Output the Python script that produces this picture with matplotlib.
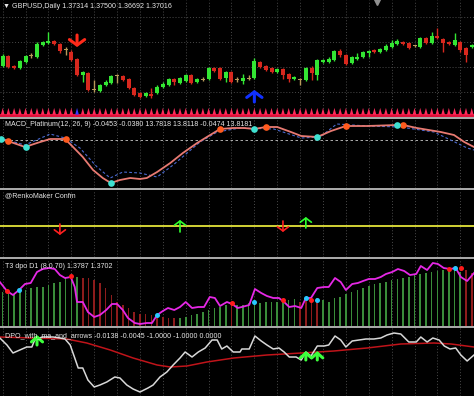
import numpy as np
import matplotlib
matplotlib.use("Agg")
import matplotlib.pyplot as plt
from matplotlib.transforms import blended_transform_factory

W, H = 474, 396
FONT = ["Liberation Sans", "DejaVu Sans"]

# ---- price panel: GBPUSD daily candles --------------------------------------
opens = [1.3650, 1.3700, 1.3650, 1.3640, 1.3670, 1.3700, 1.3695, 1.3755, 1.3765, 1.3775,
         1.3760, 1.3730, 1.3720, 1.3685, 1.3605, 1.3615, 1.3532, 1.3525, 1.3555, 1.3565,
         1.3600, 1.3600, 1.3585, 1.3540, 1.3515, 1.3500, 1.3512, 1.3515, 1.3545, 1.3555,
         1.3585, 1.3565, 1.3575, 1.3605, 1.3570, 1.3580, 1.3585, 1.3640, 1.3640, 1.3590,
         1.3620, 1.3580, 1.3575, 1.3585, 1.3590, 1.3670, 1.3650, 1.3640, 1.3620, 1.3635,
         1.3610, 1.3585, 1.3585, 1.3580, 1.3640, 1.3605, 1.3670, 1.3670, 1.3680, 1.3725,
         1.3705, 1.3665, 1.3685, 1.3695, 1.3715, 1.3730, 1.3720, 1.3730, 1.3745, 1.3760,
         1.3770, 1.3765, 1.3750, 1.3745, 1.3790, 1.3765, 1.3800, 1.3785, 1.3770, 1.3755,
         1.3770, 1.3740, 1.3745]
highs = [1.3710, 1.3705, 1.3655, 1.3680, 1.3705, 1.3715, 1.3770, 1.3775, 1.3820, 1.3780,
         1.3765, 1.3745, 1.3730, 1.3690, 1.3625, 1.3620, 1.3580, 1.3560, 1.3580, 1.3605,
         1.3610, 1.3605, 1.3590, 1.3545, 1.3520, 1.3520, 1.3540, 1.3555, 1.3570, 1.3590,
         1.3590, 1.3595, 1.3610, 1.3610, 1.3590, 1.3595, 1.3645, 1.3645, 1.3645, 1.3625,
         1.3625, 1.3595, 1.3610, 1.3605, 1.3690, 1.3675, 1.3655, 1.3645, 1.3640, 1.3640,
         1.3615, 1.3600, 1.3590, 1.3645, 1.3650, 1.3685, 1.3685, 1.3695, 1.3730, 1.3735,
         1.3710, 1.3700, 1.3715, 1.3725, 1.3730, 1.3735, 1.3740, 1.3760, 1.3780, 1.3785,
         1.3775, 1.3770, 1.3755, 1.3795, 1.3795, 1.3820, 1.3840, 1.3790, 1.3775, 1.3815,
         1.3775, 1.3745, 1.3760]
lows = [1.3645, 1.3640, 1.3635, 1.3635, 1.3665, 1.3690, 1.3690, 1.3750, 1.3760, 1.3755,
        1.3715, 1.3705, 1.3675, 1.3600, 1.3570, 1.3525, 1.3520, 1.3520, 1.3550, 1.3560,
        1.3565, 1.3575, 1.3535, 1.3500, 1.3490, 1.3495, 1.3490, 1.3510, 1.3540, 1.3550,
        1.3555, 1.3560, 1.3570, 1.3560, 1.3565, 1.3575, 1.3580, 1.3620, 1.3580, 1.3570,
        1.3565, 1.3570, 1.3560, 1.3580, 1.3585, 1.3640, 1.3625, 1.3615, 1.3615, 1.3585,
        1.3570, 1.3580, 1.3555, 1.3575, 1.3580, 1.3580, 1.3665, 1.3665, 1.3675, 1.3695,
        1.3655, 1.3660, 1.3680, 1.3690, 1.3695, 1.3715, 1.3715, 1.3725, 1.3740, 1.3755,
        1.3755, 1.3735, 1.3745, 1.3740, 1.3760, 1.3760, 1.3785, 1.3720, 1.3755, 1.3750,
        1.3720, 1.3670, 1.3740]
closes = [1.3700, 1.3645, 1.3640, 1.3675, 1.3700, 1.3702, 1.3760, 1.3770, 1.3775, 1.3760,
          1.3725, 1.3728, 1.3680, 1.3605, 1.3620, 1.3530, 1.3530, 1.3555, 1.3570, 1.3600,
          1.3605, 1.3580, 1.3540, 1.3505, 1.3495, 1.3515, 1.3502, 1.3545, 1.3560, 1.3585,
          1.3570, 1.3590, 1.3605, 1.3565, 1.3585, 1.3585, 1.3640, 1.3625, 1.3585, 1.3620,
          1.3570, 1.3582, 1.3590, 1.3590, 1.3675, 1.3645, 1.3630, 1.3620, 1.3635, 1.3605,
          1.3585, 1.3595, 1.3580, 1.3640, 1.3615, 1.3680, 1.3680, 1.3685, 1.3725, 1.3705,
          1.3660, 1.3695, 1.3695, 1.3720, 1.3725, 1.3720, 1.3735, 1.3750, 1.3765, 1.3775,
          1.3760, 1.3740, 1.3748, 1.3790, 1.3765, 1.3800, 1.3790, 1.3765, 1.3760, 1.3780,
          1.3730, 1.3705, 1.3755]
price_grid = [1.3895, 1.3770, 1.3645, 1.3520]
sell_arrow_bar, buy_arrow_bar = 13, 44
zigzag_blue_bars = [13]

# ---- MACD_Platinum ----------------------------------------------------------
macd_x = [-0.5, 0.9, 3.9, 6.0, 8.3, 10.9, 12.3, 14.0, 15.8, 17.5, 18.9, 20.5, 22.3, 24.0,
          25.2, 27.0, 29.3, 31.5, 34.0, 35.7, 38.0, 40.3, 42.2, 44.0, 46.0, 48.0, 50.4,
          52.2, 55.0, 57.4, 60.0, 63.7, 69.0, 70.0, 72.4, 76.6, 78.9, 80.7, 82.4]
macd_main = [0.001, -0.001, -0.007, -0.003, 0.001, 0.001, -0.007, -0.017, -0.030, -0.038,
             -0.043, -0.040, -0.038, -0.039, -0.038, -0.032, -0.023, -0.013, -0.003, 0.003,
             0.011, 0.012, 0.012, 0.011, 0.013, 0.013, 0.008, 0.004, 0.003, 0.009, 0.014,
             0.014, 0.015, 0.015, 0.012, 0.008, 0.005, -0.002, -0.007]
signal_x = [-0.5, 3.9, 8.3, 10.9, 13.5, 16.5, 18.8, 21.0, 24.0, 27.0, 29.8, 34.5, 37.5,
            41.5, 47.4, 52.2, 55.5, 58.4, 63.7, 69.5, 75.4, 81.2, 82.4]
macd_signal = [0.002, -0.005, 0.006, 0.002, -0.008, -0.027, -0.038, -0.032, -0.033, -0.037,
               -0.025, -0.002, 0.008, 0.012, 0.011, 0.002, 0.003, 0.016, 0.014, 0.013,
               0.008, -0.008, -0.010]
macd_up_x = [1, 11, 38, 46, 60, 70]
macd_up_y = [-0.001, 0.001, 0.011, 0.013, 0.014, 0.015]
macd_dn_x = [-0.3, 4, 19, 44, 55, 69]
macd_dn_y = [0.001, -0.007, -0.043, 0.011, 0.003, 0.015]

# ---- RenkoMaker Confm ---------------------------------------------------------
renko_bars = [10, 31, 49, 53]
renko_dirs = [-1, 1, -1, 1]
renko_tail = [0.2, -0.6, 0.5, -0.2]
renko_tip = [-0.9, 0.6, -0.6, 0.9]

# ---- T3 dpo D1 ------------------------------------------------------------------
t3_hist = [34, 34, 32, 36, 36, 38, 39, 39, 41, 43, 44, 48, 49, 49, 48, 48, 46, 43, 38, 31,
           24, 21, 18, 14, 12, 12, 11, 9, 9, 8, 8, 8, 9, 11, 12, 14, 16, 18, 19, 21,
           21, 21, 21, 23, 24, 23, 24, 24, 24, 26, 26, 27, 24, 28, 28, 28, 26, 24, 28, 29,
           32, 34, 36, 38, 40, 42, 43, 44, 46, 47, 48, 49, 51, 52, 53, 54, 55, 56, 56, 57,
           54, 56, 53]
t3_red_bars = list(range(14, 31)) + [40, 52, 53, 54, 55, 81, 82]
t3_x = [-0.5, 0.75, 1.8, 2.85, 3.9, 4.9, 6.0, 7.0, 8.1, 9.1, 10.0, 10.9, 11.9, 12.6, 13.0,
        14.0, 14.9, 16.0, 17.0, 18.1, 19.1, 20.0, 21.0, 21.9, 23.1, 24.0, 25.2, 26.1, 27.0,
        28.0, 28.9, 30.0, 31.0, 32.0, 33.1, 34.2, 35.2, 36.2, 37.1, 38.0, 39.2, 40.1, 41.1,
        41.8, 43.1, 44.1, 45.2, 46.2, 47.3, 48.3, 49.2, 50.1, 51.1, 52.2, 53.0, 53.9, 55.0,
        56.2, 57.0, 58.1, 59.1, 60.0, 61.1, 62.1, 63.0, 64.0, 65.1, 66.1, 67.0, 68.1, 69.1,
        70.2, 71.2, 72.3, 73.1, 74.2, 75.2, 76.1, 77.1, 78.2, 79.2, 80.1, 81.2, 82.4]
t3_line = [44, 35, 31, 36, 42, 43, 54, 57, 58, 57, 51, 48, 49, 39, 24, 24, 14, 9, 11, 16,
           22, 22, 16, 8, 3, 2, 3, 3, 11, 15, 18, 16, 19, 24, 18, 19, 19, 29, 28, 20,
           24, 22, 18, 19, 21, 37, 33, 30, 28, 28, 24, 19, 20, 18, 28, 28, 38, 39, 39, 48,
           44, 36, 42, 43, 45, 47, 47, 49, 52, 54, 57, 55, 51, 52, 60, 56, 63, 62, 58, 57,
           58, 49, 45, 53]
t3_red_dot_x = [0.75, 11.9, 40.1, 49.0, 53.9, 78.0, 80.1]
t3_red_dot_y = [35, 50, 23, 26, 26, 57, 58]
t3_blue_dot_x = [2.85, 27.0, 44.0, 53.0, 55.0, 79.0]
t3_blue_dot_y = [36, 11, 24, 28, 26, 58]

# ---- DPO_with_ma_and_arrows --------------------------------------------------------
dpo_x = [-0.5, 0.75, 1.8, 3.0, 4.2, 5.1, 5.6, 6.9, 8.8, 10.0, 10.9, 11.8, 12.6, 13.2, 14.0,
         14.9, 16.0, 17.0, 18.2, 19.6, 20.5, 21.7, 22.8, 24.0, 25.4, 26.3, 27.5, 28.7, 29.8,
         31.0, 31.9, 33.1, 34.2, 35.4, 36.6, 37.5, 38.3, 39.2, 40.3, 41.5, 41.8, 43.1, 44.1,
         45.2, 46.2, 47.3, 48.3, 49.2, 50.1, 51.3, 52.2, 53.0, 53.9, 55.0, 56.2, 57.0, 58.1,
         59.1, 60.0, 61.1, 62.3, 63.5, 64.9, 66.1, 67.2, 68.4, 69.6, 71.0, 72.3, 73.1, 74.2,
         75.2, 76.3, 77.2, 78.2, 79.2, 80.1, 81.2, 82.4]
dpo_line = [0.022, 0.015, 0.007, 0.010, 0.013, 0.013, 0.020, 0.023, 0.023, 0.022, 0.021,
            0.015, 0.002, -0.008, -0.008, -0.020, -0.027, -0.025, -0.022, -0.017, -0.018,
            -0.025, -0.029, -0.032, -0.028, -0.025, -0.017, -0.012, -0.005, 0.002, 0.008,
            0.003, 0.008, 0.012, 0.020, 0.020, 0.011, 0.014, 0.008, 0.008, 0.011, 0.011,
            0.024, 0.019, 0.015, 0.011, 0.012, 0.008, 0.003, 0.003, 0.000, 0.008, 0.004,
            0.014, 0.014, 0.015, 0.024, 0.020, 0.013, 0.019, 0.020, 0.021, 0.021, 0.022,
            0.025, 0.027, 0.026, 0.018, 0.018, 0.023, 0.018, 0.022, 0.020, 0.014, 0.011,
            0.012, 0.005, -0.001, 0.005]
dpo_ma_x = [-0.5, 5.3, 11.2, 14.7, 18.8, 22.8, 27.0, 29.3, 32.2, 35.7, 40.4, 46.2, 52.2,
            57.9, 63.7, 69.6, 75.4, 78.4, 82.4]
dpo_ma = [0.023, 0.022, 0.021, 0.017, 0.010, 0.002, -0.005, -0.007, -0.006, -0.002, 0.002,
          0.005, 0.007, 0.009, 0.012, 0.016, 0.017, 0.016, 0.013]
dpo_arrow_bars = [6, 53, 55]
dpo_arrow_tail = [0.015, 0.000, 0.000]
dpo_arrow_tip = [0.025, 0.009, 0.009]

n = len(closes)
XLIM = (-0.47, 82.4)

fig = plt.figure(figsize=(W / 100, H / 100), dpi=100, facecolor="#a8a8a8")


def panel(top, bottom, ylim):
    ax = fig.add_axes([0, 1 - bottom / H, 1, (bottom - top) / H])
    ax.set_facecolor("black")
    ax.set_xticks([])
    ax.set_yticks([])
    for s in ax.spines.values():
        s.set_visible(False)
    ax.set_xlim(*XLIM)
    ax.set_ylim(*ylim)
    for b in range(0, n, 4):
        ax.axvline(b, color="#4a4a4a", lw=0.7, ls=(0, (1, 2)), zorder=0)
    return ax


def arrow(ax, xb, y0, y1, color, lw, hl, hw, z=6):
    ax.annotate("", xy=(xb, y1), xytext=(xb, y0), zorder=z,
                arrowprops=dict(arrowstyle=f"->,head_length={hl},head_width={hw}",
                                color=color, lw=lw, shrinkA=0, shrinkB=0))


def label(x, y, s):
    fig.text(x / W, 1 - y / H, s, color="#e6e6e6", fontsize=5.1, family=FONT,
             va="center", ha="left", zorder=10)


# price
ax1 = panel(0, 117, (1.3395, 1.3980))
for p in price_grid:
    ax1.axhline(p, color="#4a4a4a", lw=0.7, ls=(0, (1, 2)), zorder=0)
o, h, l, c = map(np.array, (opens, highs, lows, closes))
cols = np.where(np.abs(c - o) < 0.0006, "#b89a5a", np.where(c > o, "#33e633", "#d8281e"))
x = np.arange(n)
ax1.vlines(x, l, h, colors=cols, lw=1.0, zorder=2)
ax1.bar(x, np.maximum(np.abs(c - o), 0.0005), bottom=np.minimum(o, c), width=0.7,
        color=cols, zorder=3, linewidth=0)
arrow(ax1, sell_arrow_bar, h[sell_arrow_bar] + 0.0115, h[sell_arrow_bar] + 0.0055,
      "#ff2a1a", 2.2, 0.4, 0.55)
arrow(ax1, buy_arrow_bar, l[buy_arrow_bar] - 0.0115, l[buy_arrow_bar] - 0.0055,
      "#1030ff", 2.2, 0.4, 0.55)
# trend strip along the bottom of the price panel
tr = blended_transform_factory(ax1.transData, ax1.transAxes)
ax1.fill_between([XLIM[0], XLIM[1]], 0, 0.028, color="#e0103a", transform=tr, zorder=4,
                 lw=0)
for i in range(n):
    col = "#3a3aff" if i in zigzag_blue_bars else "#ff2a5a"
    ax1.fill([i - 0.32, i, i + 0.32], [0.02, 0.078, 0.02], color=col, transform=tr,
             zorder=5, lw=0)
ax1.plot([377 / W * (XLIM[1] - XLIM[0]) + XLIM[0]], [0.985], marker="v", ms=4,
         color="#909090", transform=tr, clip_on=False)

# MACD
ax2 = panel(119, 188, (-0.048, 0.021))
ax2.axhline(0, color="#c8c8c8", lw=0.6, ls=(0, (3, 3)), zorder=1)
ax2.plot(signal_x, macd_signal, color="#4a6ad0", lw=0.8, ls=(0, (2.5, 2)), zorder=2)
ax2.plot(macd_x, macd_main, color="#e87a72", lw=1.3, zorder=3)
ax2.plot(macd_up_x, macd_up_y, "o", ms=4.8, color="#ff5a1e", mec="none", zorder=4)
ax2.plot(macd_dn_x, macd_dn_y, "o", ms=4.8, color="#3ee0d0", mec="none", zorder=4)

# RenkoMaker
ax3 = panel(190, 257, (-3.1, 3.6))
ax3.axhline(0, color="#e4e43a", lw=1.3, zorder=1)
for b, d, t0, t1 in zip(renko_bars, renko_dirs, renko_tail, renko_tip):
    arrow(ax3, b, t0, t1, "#ff2020" if d < 0 else "#2eff2e", 1.2, 0.3, 0.4)

# T3 dpo
ax4 = panel(259, 326, (0, 67))
hcol = ["#8e1c1c" if i in t3_red_bars else "#3a8c3a" for i in range(n)]
ax4.bar(x, t3_hist, width=0.28, color=hcol, lw=0, zorder=1)
ax4.plot(t3_x, t3_line, color="#e628e6", lw=1.3, zorder=2)
ax4.plot(t3_red_dot_x, t3_red_dot_y, "o", ms=3.6, color="#ff1a1a", mec="none", zorder=3)
ax4.plot(t3_blue_dot_x, t3_blue_dot_y, "o", ms=3.6, color="#28c8ff", mec="none", zorder=3)

# DPO
ax5 = panel(328, 396, (-0.036, 0.032))
ax5.plot(dpo_ma_x, dpo_ma, color="#c0141a", lw=1.1, zorder=1)
ax5.plot(dpo_x, dpo_line, color="#d8d8d8", lw=1.1, zorder=2)
for b, t0, t1 in zip(dpo_arrow_bars, dpo_arrow_tail, dpo_arrow_tip):
    arrow(ax5, b, t0, t1, "#3cff3c", 2.2, 0.35, 0.4)

label(3, 7, "\u25bc GBPUSD,Daily 1.37314 1.37500 1.36692 1.37016")
label(5, 125, "MACD_Platinum(12, 26, 9) -0.0453 -0.0380 13.7818 13.8118 -0.0474 13.8181")
label(5, 196, "@RenkoMaker Confm")
label(5, 266, "T3 dpo D1 (8,0.70) 1.3787 1.3702")
label(5, 336, "DPO_with_ma_and_arrows -0.0138 -0.0045 -1.0000 -1.0000 0.0000")

fig.savefig("out.png", dpi=100, facecolor=fig.get_facecolor())
